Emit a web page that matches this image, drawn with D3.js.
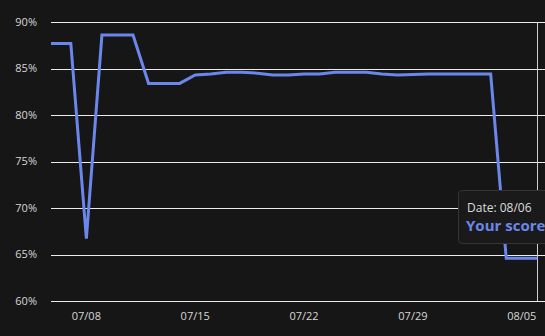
<!DOCTYPE html>
<html>
<head>
<meta charset="utf-8">
<script src="https://cdn.jsdelivr.net/npm/d3@7"></script>
<style>
  html, body { margin: 0; padding: 0; background: #161616; overflow: hidden; }
  svg { display: block; font-family: 'Open Sans', 'Noto Sans', sans-serif; }
</style>
</head>
<body>
<div id="chart"></div>
<script>
const dates = [
  '07/05', '07/06', '07/07', '07/08', '07/09', '07/10', '07/11', '07/12', '07/13', '07/14',
  '07/15', '07/16', '07/17', '07/18', '07/19', '07/20', '07/21', '07/22', '07/23', '07/24',
  '07/25', '07/26', '07/27', '07/28', '07/29', '07/30', '07/31', '08/01', '08/02', '08/03',
  '08/04', '08/05', '08/06'
]
const scores = [
  87.7, 87.7, 87.7, 66.7, 88.6, 88.6, 88.6, 83.4, 83.4, 83.4,
  84.3, 84.4, 84.6, 84.6, 84.5, 84.3, 84.3, 84.4, 84.4, 84.6,
  84.6, 84.6, 84.4, 84.3, 84.35, 84.4, 84.4, 84.4, 84.4, 84.4,
  64.6, 64.6, 64.6
]
const yTicks = [60, 65, 70, 75, 80, 85, 90]
const xTickLabels = ['07/08', '07/15', '07/22', '07/29', '08/05']
const hoverDate = '08/06'

const width = 545
const height = 336
const margin = { top: 22, right: 0, bottom: 35, left: 51 }

const parse = (s) => {
  const [m, d] = s.split('/').map(Number)
  return new Date(2024, m - 1, d)
}
const data = dates.map((d, i) => ({ date: parse(d), value: scores[i] }))

const svg = d3.select('#chart')
  .append('svg')
  .attr('width', width)
  .attr('height', height)

const x = d3.scaleTime()
  .domain([new Date(2024, 6, 5, 17, 25), new Date(2024, 7, 6, 11, 50)])
  .range([margin.left, width - margin.right])

const y = d3.scaleLinear()
  .domain([60, 90])
  .range([height - margin.bottom, margin.top])

// grid lines
svg.append('g')
  .selectAll('line')
  .data(yTicks)
  .enter()
  .append('line')
  .attr('x1', margin.left)
  .attr('x2', width)
  .attr('y1', (d) => Math.round(y(d)) + 0.5)
  .attr('y2', (d) => Math.round(y(d)) + 0.5)
  .attr('stroke', '#ececec')
  .attr('stroke-width', 1)

// y labels
svg.append('g')
  .selectAll('text')
  .data(yTicks)
  .enter()
  .append('text')
  .attr('x', 37)
  .attr('y', (d) => y(d))
  .attr('dy', '0.35em')
  .attr('text-anchor', 'end')
  .attr('fill', '#d6d6d6')
  .style('font-size', '11px')
  .text((d) => d + '%')

// x labels
svg.append('g')
  .selectAll('text')
  .data(xTickLabels)
  .enter()
  .append('text')
  .attr('x', (d) => x(parse(d)))
  .attr('y', 320)
  .attr('text-anchor', 'middle')
  .attr('fill', '#d6d6d6')
  .style('font-size', '11px')
  .text((d) => d)

// crosshair
svg.append('line')
  .attr('x1', Math.round(x(parse(hoverDate))) + 0.5)
  .attr('x2', Math.round(x(parse(hoverDate))) + 0.5)
  .attr('y1', margin.top)
  .attr('y2', height - margin.bottom)
  .attr('stroke', '#cfcfcf')
  .attr('stroke-width', 1)

svg.append('clipPath')
  .attr('id', 'plot-clip')
  .append('rect')
  .attr('x', margin.left)
  .attr('y', 0)
  .attr('width', width - margin.left)
  .attr('height', height)

const line = d3.line()
  .x((d) => x(d.date))
  .y((d) => y(d.value))

svg.append('path')
  .datum(data)
  .attr('clip-path', 'url(#plot-clip)')
  .attr('fill', 'none')
  .attr('stroke', '#6c87ec')
  .attr('stroke-width', 3)
  .attr('stroke-linejoin', 'miter')
  .attr('d', line)

// tooltip (runs past the right edge, as in the original screenshot)
const hovered = data.find((d) => +d.date === +parse(hoverDate))
const tip = svg.append('g').attr('transform', 'translate(458, 190)')
tip.append('rect')
  .attr('x', 0.5)
  .attr('y', 0.5)
  .attr('width', 130)
  .attr('height', 53)
  .attr('rx', 3)
  .attr('fill', '#1a1a1a')
  .attr('stroke', '#343434')
tip.append('text')
  .attr('x', 9)
  .attr('y', 22)
  .attr('fill', '#dcdcdc')
  .style('font-size', '12px')
  .text('Date: ' + hoverDate)
tip.append('text')
  .attr('x', 8)
  .attr('y', 41)
  .attr('fill', '#6c87ec')
  .style('font-size', '15px')
  .style('font-weight', 'bold')
  .text('Your score: ' + hovered.value + '%')
</script>
</body>
</html>
